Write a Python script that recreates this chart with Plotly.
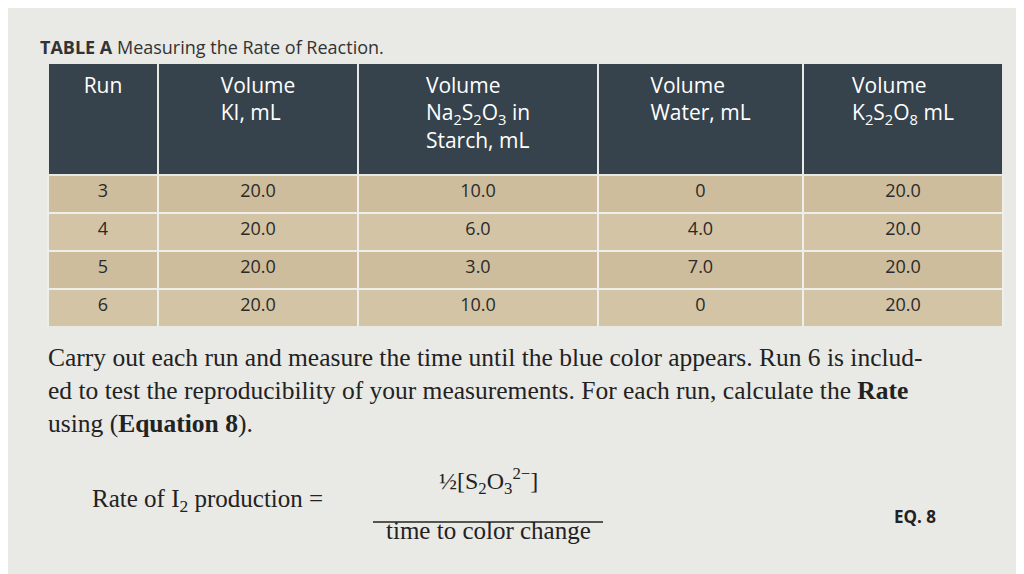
import plotly.graph_objects as go

runs = ["3", "4", "5", "6"]
vol_ki = ["20.0", "20.0", "20.0", "20.0"]
vol_na = ["10.0", "6.0", "3.0", "10.0"]
vol_water = ["0", "4.0", "7.0", "0"]
vol_k = ["20.0", "20.0", "20.0", "20.0"]
headers = ["<br>Run", "<br>Volume<br>KI, mL", "Volume<br>Na<sub>2</sub>S<sub>2</sub>O<sub>3</sub> in<br>Starch, mL",
           "<br>Volume<br>Water, mL", "<br>Volume<br>K<sub>2</sub>S<sub>2</sub>O<sub>8</sub> mL"]

fig = go.Figure()
fig.add_trace(go.Table(
    domain=dict(x=[40/1024, 995/1024], y=[1-318/574, 1-55/574]),
    columnwidth=[110, 200, 240, 205, 200],
    header=dict(values=headers, fill_color="#36434d", line_color="#e8e8e4", line_width=2,
                font=dict(color="white", size=21, family="Open Sans"), align="center", height=112),
    cells=dict(values=[runs, vol_ki, vol_na, vol_water, vol_k],
               fill_color=[["#cdbd9c", "#d3c4a5", "#cdbd9c", "#d3c4a5"]],
               line_color="#eeeeea", line_width=2,
               font=dict(color="#2a2a2a", size=18, family="Open Sans"), align="center", height=38),
))

fig.add_annotation(x=30/1024, y=1-25/574, xref="paper", yref="paper", xanchor="left", showarrow=False,
                   text="<b>TABLE A</b> Measuring the Rate of Reaction.",
                   font=dict(size=18, family="Open Sans", color="#333"))
para = ("Carry out each run and measure the time until the blue color appears. Run 6 is includ-<br>"
        "ed to test the reproducibility of your measurements. For each run, calculate the <b>Rate</b><br>"
        "using (<b>Equation 8</b>).")
fig.add_annotation(x=38/1024, y=1-382/574, xref="paper", yref="paper", xanchor="left", yanchor="middle",
                   showarrow=False, align="left", text=para,
                   font=dict(size=25.5, family="Liberation Serif", color="#222"))
fig.add_annotation(x=82/1024, y=1-510/574, xref="paper", yref="paper", xanchor="left", showarrow=False,
                   text="Rate of I<sub>2</sub> production =", font=dict(size=25, family="Liberation Serif", color="#222"))
fig.add_annotation(x=480/1024, y=1-492/574, xref="paper", yref="paper", showarrow=False,
                   text="½[S<sub>2</sub>O<sub>3</sub><sup>2−</sup>]", font=dict(size=24, family="Liberation Serif", color="#222"))
fig.add_annotation(x=480/1024, y=1-538/574, xref="paper", yref="paper", showarrow=False,
                   text="time to color change", font=dict(size=25, family="Liberation Serif", color="#222"))
fig.add_shape(type="line", xref="paper", yref="paper", x0=365/1024, x1=595/1024,
              y0=1-514/574, y1=1-514/574, line=dict(color="#222", width=1.5))
fig.add_annotation(x=930/1024, y=1-522/574, xref="paper", yref="paper", showarrow=False,
                   text="<b>EQ. 8</b>", font=dict(size=17, family="Open Sans", color="#222"))

fig.update_layout(width=1024, height=574, margin=dict(l=0, r=0, t=0, b=0),
                  paper_bgcolor="#e9e9e5", plot_bgcolor="#e9e9e5")
fig.write_html("out.html")
